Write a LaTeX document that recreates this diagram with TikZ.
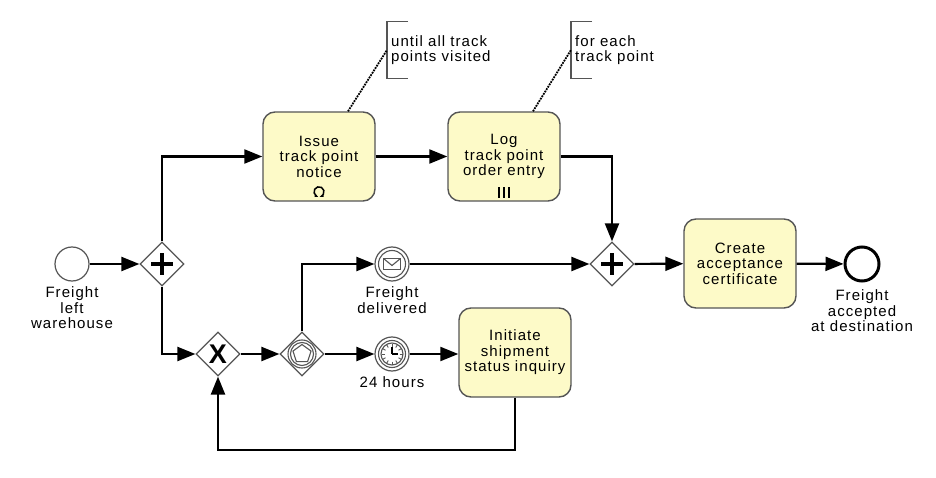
\documentclass[tikz,border=0pt]{standalone}
\usepackage{fontspec}
\setmainfont[LetterSpace=7]{Liberation Sans}
\usepackage{tikz}
\usetikzlibrary{shapes, arrows.meta}
\definecolor{taskfill}{RGB}{253,250,200}
\definecolor{edgegray}{RGB}{85,85,85}
\tikzstyle{task} = [rectangle, rounded corners=12pt, minimum width=112pt, minimum height=89pt, inner sep=0pt, text centered, align=center, draw=edgegray, line width=1.4pt, fill=taskfill, font=\fontsize{15}{15.5}\selectfont]
\tikzstyle{gateway} = [diamond, minimum width=44pt, minimum height=44pt, inner sep=0pt, draw=edgegray, line width=1.2pt, fill=white]
\tikzstyle{event} = [circle, minimum size=34pt, inner sep=0pt, draw=edgegray, line width=1.2pt, fill=white]
\tikzstyle{endevent} = [event, draw=black, line width=3pt]
\tikzstyle{evlabel} = [anchor=north, align=center, inner sep=0pt, yshift=-5pt, font=\fontsize{15}{15.5}\selectfont]
\tikzstyle{note} = [anchor=west, align=left, minimum height=56pt, inner xsep=4pt, inner ysep=0pt, font=\fontsize{15}{15.5}\selectfont]
\tikzstyle{bracket} = [draw=edgegray, line width=1.2pt]
\tikzstyle{arrow} = [line width=2.2pt,-{Triangle[length=18pt,width=14pt]}]
\tikzstyle{plusbar} = [black, line width=4pt]
\tikzstyle{thinmark} = [edgegray, line width=1.1pt]

\begin{document}
\begin{tikzpicture}[x=1pt, y=-1pt]
\useasboundingbox (0,0) rectangle (936,478);

%Events==============================================
\node (start) [event] at (72,264) {};
\node (startlbl) [evlabel] at (start.south) {Freight\\left\\warehouse};
\node (msg) [event] at (392,264) {};
\node (msglbl) [evlabel] at (msg.south) {Freight\\delivered};
\node (timer) [event] at (392,354) {};
\node (timerlbl) [evlabel] at (timer.south) {24 hours};
\node (finish) [endevent] at (862,264) {};
\node (finishlbl) [evlabel, yshift=-2pt] at (finish.south) {Freight\\accepted\\at destination};

%Gateways============================================
\node (plus1) [gateway] at (162,264) {};
\node (xgate) [gateway] at (218,354) {};
\node (evgate) [gateway] at (302,354) {};
\node (plus2) [gateway] at (612,264) {};

%Tasks===============================================
\node (issue) [task] at (319,156.5) {Issue\\track point\\notice};
\node (log) [task] at (504,156.5) {Log\\track point\\order entry};
\node (create) [task] at (740,263.5) {Create\\acceptance\\certificate};
\node (initiate) [task] at (515,352.5) {Initiate\\shipment\\status inquiry};

%Annotations=========================================
\node (note1) [note] at (387,50) {until all track\\points visited};
\node (note2) [note] at (571,50) {for each\\track point};
\draw [bracket] (note1.north west) ++(21,0) -- (note1.north west) -- (note1.south west) -- ++(21,0);
\draw [bracket] (note2.north west) ++(21,0) -- (note2.north west) -- (note2.south west) -- ++(21,0);
\draw [densely dotted, line width=1.8pt] ([xshift=29pt]issue.north) -- (note1.west);
\draw [densely dotted, line width=1.8pt] ([xshift=29pt]log.north) -- (note2.west);

%Markers=============================================
\draw [plusbar] (plus1.center) ++(-11,0) -- ++(22,0);
\draw [plusbar] (plus1.center) ++(0,-11) -- ++(0,22);
\draw [plusbar] (plus2.center) ++(-11,0) -- ++(22,0);
\draw [plusbar] (plus2.center) ++(0,-11) -- ++(0,22);
\node (xmark) at (xgate.center) {\fontsize{27}{27}\bfseries X};
\draw [thinmark] (evgate.center) circle (14);
\draw [thinmark] (evgate.center) circle (11.5);
\node (penta) [regular polygon, regular polygon sides=5, minimum size=19pt, inner sep=0pt, thinmark, draw] at (evgate.center) {};
\draw [thinmark] (msg.center) circle (13.5);
\draw [thinmark] (msg.center) ++(-8.5,-5.5) rectangle ++(17,11);
\draw [thinmark] (msg.center) ++(-8.5,-5.5) -- ++(8.5,7) -- ++(8.5,-7);
\draw [thinmark] (timer.center) circle (13.5);
\draw [thinmark] (timer.center) circle (11);
\foreach \ang in {0,30,...,330}
	\draw [edgegray, line width=0.9pt] (timer.center) ++(\ang:7.5) -- ++(\ang:3);
\draw [black, line width=1.3pt] (timer.center) -- ++(0,-7);
\draw [black, line width=1.3pt] (timer.center) -- ++(6,0);
\node (loopmark) [inner sep=0pt, minimum size=0pt] at ([yshift=10pt]issue.south) {};
\draw [black, line width=1.5pt] (loopmark.center) ++(-4.5,4.4) -- ++(2,0) arc[start angle=120, end angle=420, radius=5] -- ++(2,0);
\foreach \dx in {-5,0,5}
	\draw [black, line width=2.6pt] ([xshift=\dx pt, yshift=4pt]log.south) -- ++(0,-11);

%====================================================
\draw [arrow] (start) -- (plus1);
\draw [arrow] (plus1.north) |- (issue.west);
\draw [arrow] (plus1.south) |- (xgate.west);
\draw [arrow] (issue) -- (log);
\draw [arrow] (log.east) -| (plus2.north);
\draw [arrow] (xgate) -- (evgate);
\draw [arrow] (evgate.north) |- (msg.west);
\draw [arrow] (evgate) -- (timer);
\draw [arrow] (timer) -- (initiate.west |- timer);
\draw [arrow] (msg) -- (plus2);
\draw [arrow] (plus2) -- (create);
\draw [arrow] (create) -- (finish);
\draw [arrow] (initiate.south) -- ++(0,52) -| (xgate.south);
\end{tikzpicture}
\end{document}
